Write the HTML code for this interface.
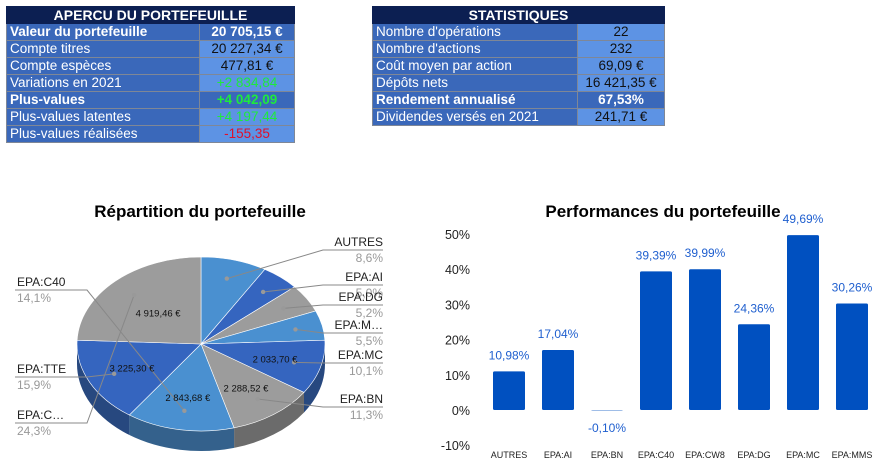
<!DOCTYPE html>
<html><head><meta charset="utf-8">
<style>
body{margin:0;width:887px;height:476px;background:#fff;font-family:"Liberation Sans",sans-serif;position:relative;overflow:hidden}
table{position:absolute;border-collapse:collapse;font-size:13.5px;color:#fff}
td{border:1px solid #7f8796;height:16px;padding:0 3px;line-height:16px;white-space:nowrap}
th{background:#0c1f52;color:#fff;font-size:14px;height:16px;line-height:16px;padding:0;border:1px solid #0c1f52}
td.l{background:#3a68ba}
td.v{background:#5d93e4;color:#111;text-align:center}
td.d{background:#3a68ba;color:#fff;text-align:center;font-weight:bold}
.b{font-weight:bold}
.g{color:#1eea3c!important}
.r{color:#e0102a!important}
svg{position:absolute;left:0;top:0}
</style></head><body>
<table style="left:6px;top:6px;width:289px">
<tr><th colspan="2">APERCU DU PORTEFEUILLE</th></tr>
<tr><td class="l b" style="width:186px">Valeur du portefeuille</td><td class="d">20 705,15 €</td></tr>
<tr><td class="l">Compte titres</td><td class="v">20 227,34 €</td></tr>
<tr><td class="l">Compte espèces</td><td class="v">477,81 €</td></tr>
<tr><td class="l">Variations en 2021</td><td class="v g">+2 834,84</td></tr>
<tr><td class="l b">Plus-values</td><td class="d g">+4 042,09</td></tr>
<tr><td class="l">Plus-values latentes</td><td class="v g">+4 197,44</td></tr>
<tr><td class="l">Plus-values réalisées</td><td class="v r">-155,35</td></tr>
</table>
<table style="left:372px;top:6px;width:293px">
<tr><th colspan="2">STATISTIQUES</th></tr>
<tr><td class="l" style="width:198px">Nombre d'opérations</td><td class="v">22</td></tr>
<tr><td class="l">Nombre d'actions</td><td class="v">232</td></tr>
<tr><td class="l">Coût moyen par action</td><td class="v">69,09 €</td></tr>
<tr><td class="l">Dépôts nets</td><td class="v">16 421,35 €</td></tr>
<tr><td class="l b">Rendement annualisé</td><td class="d">67,53%</td></tr>
<tr><td class="l">Dividendes versés en 2021</td><td class="v">241,71 €</td></tr>
</table>

<svg id="pie" width="887" height="476">
<text x="200" y="217" text-anchor="middle" font-size="17" font-weight="bold">Répartition du portefeuille</text>
</svg>
<svg id="bar" width="887" height="476">
<text x="663" y="217" text-anchor="middle" font-size="17" font-weight="bold">Performances du portefeuille</text>
</svg>

<script>
// Pie data
const pieNames=["AUTRES","EPA:AI","EPA:DG","EPA:M…","EPA:MC","EPA:BN","EPA:C40","EPA:TTE","EPA:C…"];
const pieShares=[8.6,5.0,5.2,5.5,10.1,11.3,14.1,15.9,24.3];
const pieValues=["","","","","2 033,70 €","2 288,52 €","2 843,68 €","3 225,30 €","4 919,46 €"];
const pieShareLabels=["8,6%","5,0%","5,2%","5,5%","10,1%","11,3%","14,1%","15,9%","24,3%"];
// Bar data
const barCats=["AUTRES","EPA:AI","EPA:BN","EPA:C40","EPA:CW8","EPA:DG","EPA:MC","EPA:MMS"];
const barVals=[10.98,17.04,-0.10,39.39,39.99,24.36,49.69,30.26];
const barLabels=["10,98%","17,04%","-0,10%","39,39%","39,99%","24,36%","49,69%","30,26%"];
const yTicks=[-10,0,10,20,30,40,50];

const NS="http://www.w3.org/2000/svg";
function mk(parent,tag,attrs){const e=document.createElementNS(NS,tag);for(const k in attrs)e.setAttribute(k,attrs[k]);parent.appendChild(e);return e;}

// ---- Pie ----
(function(){
const svg=document.getElementById('pie');
const cx=201,cy=344,rx=124,ry=87,depth=20;
const top=["#4a90d0","#3565bf","#9c9c9c"],side=["#34618c","#27487f","#6b6b6b"];
const total=pieShares.reduce((a,b)=>a+b,0);
const P=(t,dy=0)=>[cx+rx*Math.sin(t),cy-ry*Math.cos(t)+dy];
let a=0;const ang=[];
pieShares.forEach(s=>{const b=a+s/total*2*Math.PI;ang.push([a,b]);a=b;});
// sides
ang.forEach(([s,e],i)=>{
  const lo=Math.max(s,Math.PI/2),hi=Math.min(e,3*Math.PI/2);
  if(hi<=lo)return;
  const p1=P(lo),p2=P(hi),p3=P(hi,depth),p4=P(lo,depth);
  const p=mk(svg,'path',{d:`M${p1} A${rx},${ry} 0 0 1 ${p2} L${p3} A${rx},${ry} 0 0 0 ${p4} Z`,fill:side[i%3]});
  
  
});
ang.forEach(([s,e],i)=>{
  const p1=P(s),p2=P(e),large=(e-s)>Math.PI?1:0;
  const p=mk(svg,'path',{d:`M${cx},${cy} L${p1} A${rx},${ry} 0 ${large} 1 ${p2} Z`,fill:top[i%3],stroke:"#fff","stroke-width":0.6});
  
  
});
// labels
const rightY=[245,280,300,328,358,402],leftY=[285,372,418];
ang.forEach(([s,e],i)=>{
  const m=(s+e)/2;
  const d=[cx+rx*0.78*Math.sin(m),cy-ry*0.78*Math.cos(m)];
  const right=i<6;
  const ly=right?rightY[i]:leftY[i-6];
  const lx=right?383:17;
  const hx=right?lx-60:lx+70;
  const l=mk(svg,'polyline',{points:`${d} ${hx},${ly+5} ${right?lx:lx-2},${ly+5}`,fill:"none",stroke:"#888","stroke-width":1});
  
  
  mk(svg,'circle',{cx:d[0],cy:d[1],r:2.2,fill:"#999"});
  const t=mk(svg,'text',{x:lx,y:ly+1,"font-size":12,"text-anchor":right?"end":"start",fill:"#222"});
  t.textContent=pieNames[i];
  
  
  const t2=mk(svg,'text',{x:lx,y:ly+17,"font-size":12,"text-anchor":right?"end":"start",fill:"#999"});
  t2.textContent=pieShareLabels[i];
  
  
  if(pieValues[i]){
    const r=(e-s)>1.2?0.5:0.62;
    const t3=mk(svg,'text',{x:cx+rx*r*Math.sin(m),y:cy-ry*r*Math.cos(m)+4,"font-size":9.5,"text-anchor":"middle",fill:"#111"});
    t3.textContent=pieValues[i];
    
    
  }
});
})();

// ---- Bars ----
(function(){
const svg=document.getElementById('bar');
const y0=410,pxPer=3.52;
const Y=v=>y0-v*pxPer;
const X=i=>509+i*49;
yTicks.forEach(t=>{
  const e=mk(svg,'text',{x:470,y:Y(t)+5,"font-size":12.5,"text-anchor":"end",fill:"#222"});
  e.textContent=t+"%";
  
  
});
barVals.forEach((v,i)=>{
  const w=32,yt=Math.min(Y(v),y0),h=Math.abs(Y(v)-y0);
  const r=mk(svg,'rect',{x:X(i)-w/2,y:yt,width:w,height:h,fill:"#0050c0",rx:1.5});
  
  
  const ly=v>=0?Y(v)-12:y0+22;
  const t=mk(svg,'text',{x:X(i),y:ly,"font-size":12,"text-anchor":"middle",fill:"#1f5fcf"});
  t.textContent=barLabels[i];
  
  
  const c=mk(svg,'text',{x:X(i),y:458,"font-size":9,"text-anchor":"middle",fill:"#222"});
  c.textContent=barCats[i];
  
  
});
})();
</script>
</body></html>
